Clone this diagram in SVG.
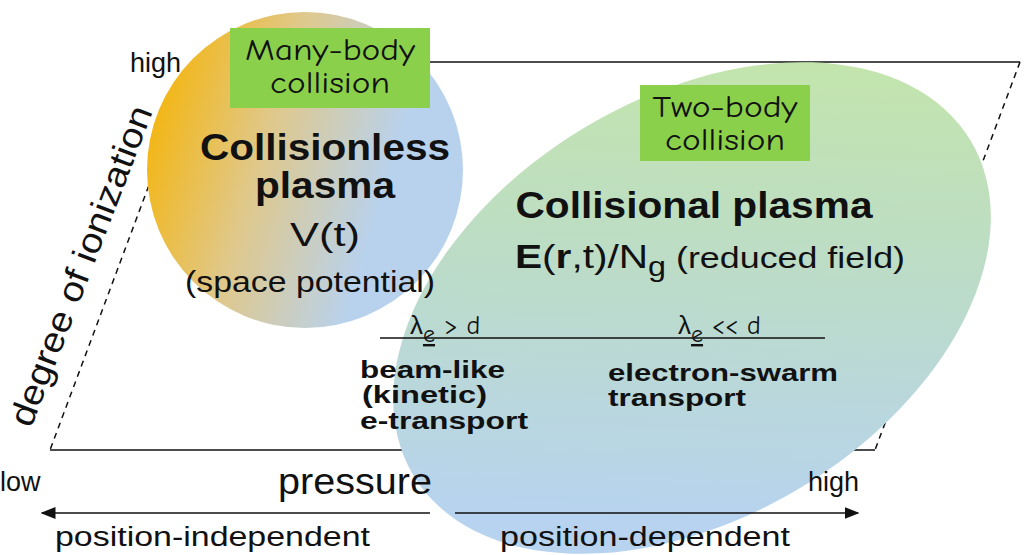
<svg xmlns="http://www.w3.org/2000/svg" width="1025" height="555" viewBox="0 0 1025 555">
<style>
text{font-family:"Liberation Sans",Arial,sans-serif;fill:#111}
.b{font-weight:bold}
.c{font-family:"Comic Neue","DejaVu Sans",sans-serif}
.ax{stroke:#111;stroke-width:1.5;fill:none}
.d{stroke:#111;stroke-width:1.5;stroke-dasharray:6 5;fill:none}
</style>
<defs>
<linearGradient id="g1" x1="0" y1="0" x2="1" y2="0.3">
<stop offset="0.05" stop-color="#f6b300"/><stop offset="0.45" stop-color="#e0c88a"/><stop offset="0.85" stop-color="#b8d2ee"/></linearGradient>
<linearGradient id="g2" x1="0" y1="1" x2="1" y2="0">
<stop offset="0.2" stop-color="#b7d3ef"/><stop offset="0.55" stop-color="#bcdcc8"/><stop offset="0.9" stop-color="#c4e6a8"/></linearGradient>
<marker id="ar" markerWidth="10" markerHeight="8" refX="9" refY="4" orient="auto"><path d="M0,0 L10,4 L0,8z" fill="#111"/></marker>
</defs>
<g id="axes">
<line class="ax" x1="195" y1="62" x2="1020" y2="62"/>
<line class="d" x1="1020" y1="62" x2="875" y2="450"/>
<line class="d" x1="195" y1="62" x2="50" y2="450"/>
<line class="ax" x1="50" y1="450" x2="875" y2="450"/>
</g>
<g id="collisionless">
<circle cx="305" cy="170" r="158" fill="url(#g1)"/>
</g>
<g id="collisional">
<ellipse cx="692" cy="308" rx="325" ry="210" transform="rotate(-31 692 308)" fill="url(#g2)"/>
</g>
<g id="many-body">
<rect x="230" y="28" width="200" height="80" fill="#8bd04a"/>
<text class="c" x="330" y="60" font-size="30" text-anchor="middle" textLength="170" lengthAdjust="spacingAndGlyphs">Many-body</text>
<text class="c" x="330" y="93" font-size="30" text-anchor="middle" textLength="120" lengthAdjust="spacingAndGlyphs">collision</text>
</g>
<g id="two-body">
<rect x="640" y="85" width="170" height="76" fill="#8bd04a"/>
<text class="c" x="725" y="117" font-size="30" text-anchor="middle" textLength="145" lengthAdjust="spacingAndGlyphs">Two-body</text>
<text class="c" x="725" y="150" font-size="30" text-anchor="middle" textLength="120" lengthAdjust="spacingAndGlyphs">collision</text>
</g>
<g id="labels1">
<text class="b" x="325" y="160" font-size="37" text-anchor="middle" textLength="250" lengthAdjust="spacingAndGlyphs">Collisionless</text>
<text class="b" x="325" y="198" font-size="37" text-anchor="middle" textLength="140" lengthAdjust="spacingAndGlyphs">plasma</text>
<text x="325" y="246" font-size="34" text-anchor="middle" textLength="70" lengthAdjust="spacingAndGlyphs">V(t)</text>
<text x="310" y="292" font-size="30" text-anchor="middle" textLength="250" lengthAdjust="spacingAndGlyphs">(space potential)</text>
<text class="b" x="694" y="218" font-size="37" text-anchor="middle" textLength="357" lengthAdjust="spacingAndGlyphs">Collisional plasma</text>
<text x="515" y="268" font-size="34" textLength="390" lengthAdjust="spacingAndGlyphs"><tspan class="b">E</tspan>(<tspan class="b">r</tspan>,t)/N<tspan font-size="27" dy="8">g</tspan><tspan font-size="30" dy="-8"> (reduced field)</tspan></text>
</g>
<g id="regimes">
<line class="ax" x1="380" y1="338" x2="825" y2="338"/>
<text x="410" y="334" font-size="26">λ<tspan class="c" font-size="24" dy="8" text-decoration="underline">e</tspan><tspan class="c" dy="-8"> &gt; d</tspan></text>
<text x="678" y="334" font-size="26">λ<tspan class="c" font-size="24" dy="8" text-decoration="underline">e</tspan><tspan class="c" dy="-8"> &lt;&lt; d</tspan></text>
<text class="b" x="360" y="378" font-size="24" textLength="145" lengthAdjust="spacingAndGlyphs">beam-like</text>
<text class="b" x="362" y="403" font-size="24" textLength="125" lengthAdjust="spacingAndGlyphs">(kinetic)</text>
<text class="b" x="360" y="429" font-size="24" textLength="168" lengthAdjust="spacingAndGlyphs">e-transport</text>
<text class="b" x="608" y="381" font-size="24" textLength="230" lengthAdjust="spacingAndGlyphs">electron-swarm</text>
<text class="b" x="608" y="406" font-size="24" textLength="138" lengthAdjust="spacingAndGlyphs">transport</text>
</g>
<g id="axis-labels">
<text x="130" y="72" font-size="27">high</text>
<text x="0" y="491" font-size="27">low</text>
<text x="278" y="494" font-size="37" textLength="154" lengthAdjust="spacingAndGlyphs">pressure</text>
<text x="808" y="491" font-size="27">high</text>
<text x="92" y="270" font-size="35" text-anchor="middle" transform="rotate(-69 92 270)" textLength="340" lengthAdjust="spacingAndGlyphs">degree of ionization</text>
<text x="55" y="546" font-size="27" textLength="315" lengthAdjust="spacingAndGlyphs">position-independent</text>
<text x="500" y="546" font-size="27" textLength="290" lengthAdjust="spacingAndGlyphs">position-dependent</text>
</g>
<g id="connectors">
<line class="ax" x1="430" y1="513" x2="42" y2="513" marker-end="url(#ar)"/>
<line class="ax" x1="455" y1="513" x2="858" y2="513" marker-end="url(#ar)"/>
</g>
</svg>
